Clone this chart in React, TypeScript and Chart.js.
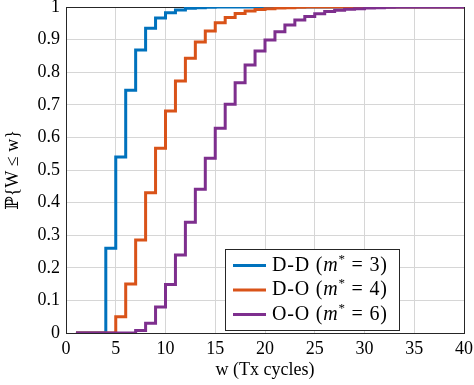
import React, { useEffect, useRef } from "react";
import { Chart, registerables } from "chart.js";

Chart.register(...registerables);

// ---- data ----
const wValues = [1, 2, 3, 4, 5, 6, 7, 8, 9, 10, 11, 12, 13, 14, 15, 16, 17, 18, 19, 20, 21, 22, 23, 24, 25, 26, 27, 28, 29, 30, 31, 32, 33, 34, 35, 36, 37, 38, 39, 40];
const ddValues = [0, 0, 0, 0.26, 0.54, 0.745, 0.868, 0.935, 0.966, 0.982, 0.991, 0.996, 0.998, 0.999, 1, 1, 1, 1, 1, 1, 1, 1, 1, 1, 1, 1, 1, 1, 1, 1, 1, 1, 1, 1, 1, 1, 1, 1, 1, 1];
const doValues = [0, 0, 0, 0, 0.05, 0.15, 0.285, 0.43, 0.567, 0.681, 0.773, 0.843, 0.893, 0.926, 0.952, 0.968, 0.98, 0.988, 0.992, 0.995, 0.997, 0.998, 0.999, 1, 1, 1, 1, 1, 1, 1, 1, 1, 1, 1, 1, 1, 1, 1, 1, 1];
const ooValues = [0, 0, 0, 0, 0, 0, 0.008, 0.03, 0.08, 0.149, 0.239, 0.34, 0.441, 0.536, 0.628, 0.702, 0.768, 0.822, 0.865, 0.899, 0.924, 0.945, 0.96, 0.971, 0.979, 0.986, 0.99, 0.993, 0.995, 0.997, 0.998, 0.999, 1, 1, 1, 1, 1, 1, 1, 1];
const seriesNames = ["D-D", "D-O", "O-O"];
const mStarValues = [3, 4, 6];
const seriesColors = ["#0072BD", "#D95319", "#7E2F8E"];
const xTickValues = [0, 5, 10, 15, 20, 25, 30, 35, 40];
const yTickValues = [0, 0.1, 0.2, 0.3, 0.4, 0.5, 0.6, 0.7, 0.8, 0.9, 1];
const xTitle = "w (Tx cycles)";
const yTitle = "\u2119{W \u2264 w}";

const FONT = "'Liberation Serif', 'DejaVu Serif', serif";

const framePlugin = {
  id: "frame",
  beforeDatasetsDraw(chart: any) {
    const { ctx, chartArea } = chart;
    ctx.save();
    ctx.strokeStyle = "#262626";
    ctx.lineWidth = 1;
    ctx.strokeRect(Math.round(chartArea.left) + 0.5, Math.round(chartArea.top) + 0.5, Math.round(chartArea.right - chartArea.left), Math.round(chartArea.bottom - chartArea.top));
    ctx.restore();
  },
};

const legendPlugin = {
  id: "boxLegend",
  afterDraw(chart: any) {
    const ctx = chart.ctx as CanvasRenderingContext2D;
    const boxX = 225.5;
    const boxY = 249.5;
    const boxW = 174;
    const boxH = 81;
    const rowH = 24.5;
    const size = 20;
    const fN = `${size}px ${FONT}`;
    const fI = `italic ${size}px ${FONT}`;
    const fS = `13px ${FONT}`;
    const textX = 272;
    ctx.save();
    (ctx as any).letterSpacing = "0.8px";
    const rows = seriesNames.map((n, i) => [
      { t: n + " (", f: fN, dy: 0 },
      { t: "m", f: fI, dy: 0 },
      { t: "*", f: fS, dy: -6 },
      { t: " = " + mStarValues[i] + ")", f: fN, dy: 0 },
    ]);
    ctx.fillStyle = "#ffffff";
    ctx.fillRect(boxX, boxY, boxW, boxH);
    ctx.strokeStyle = "#262626";
    ctx.lineWidth = 1;
    ctx.strokeRect(boxX, boxY, boxW, boxH);
    rows.forEach((segs, i) => {
      const y = boxY + 16 + i * rowH;
      ctx.strokeStyle = seriesColors[i];
      ctx.lineWidth = 3;
      ctx.beginPath();
      ctx.moveTo(233, y);
      ctx.lineTo(266, y);
      ctx.stroke();
      let x = textX;
      ctx.fillStyle = "#000000";
      ctx.textBaseline = "middle";
      ctx.textAlign = "left";
      segs.forEach((s) => {
        ctx.font = s.f;
        ctx.fillText(s.t, x, y + s.dy);
        x += ctx.measureText(s.t).width;
      });
    });
    ctx.restore();
  },
};

export default function App() {
  const ref = useRef<HTMLCanvasElement>(null);
  useEffect(() => {
    const values = [ddValues, doValues, ooValues];
    const chart = new Chart(ref.current as HTMLCanvasElement, {
      type: "line",
      data: {
        datasets: seriesNames.map((name, i) => ({
          label: `${name} (m* = ${mStarValues[i]})`,
          data: wValues.map((w, j) => ({ x: w, y: values[i][j] })),
          borderColor: seriesColors[i],
          backgroundColor: seriesColors[i],
          borderWidth: 3,
          stepped: "before" as const,
          pointRadius: 0,
          fill: false,
          order: 2 - i,
        })),
      },
      options: {
        animation: false,
        responsive: false,
        devicePixelRatio: 1,
        layout: { padding: { top: 7, right: 10, left: 0, bottom: 0 } },
        plugins: { legend: { display: false }, tooltip: { enabled: false } },
        scales: {
          x: {
            type: "linear",
            min: 0,
            max: 40,
            afterBuildTicks: (s: any) => {
              s.ticks = xTickValues.map((v) => ({ value: v }));
            },
            afterFit: (s: any) => {
              s.height = 52;
              s.paddingLeft = 0;
              s.paddingRight = 0;
            },
            grid: { color: "#d6d6d6", lineWidth: 1, drawTicks: false },
            border: { display: false },
            ticks: { color: "#000", font: { family: FONT, size: 18 }, padding: 5, maxRotation: 0, callback: (v: any) => String(v) },
            title: { display: true, text: xTitle, color: "#000", font: { family: FONT, size: 18 }, padding: { top: 0, bottom: 4 } },
          },
          y: {
            type: "linear",
            min: 0,
            max: 1,
            afterBuildTicks: (s: any) => {
              s.ticks = yTickValues.map((v) => ({ value: v }));
            },
            afterFit: (s: any) => {
              s.width = 66;
              s.paddingTop = 0;
              s.paddingBottom = 0;
            },
            grid: { color: "#d6d6d6", lineWidth: 1, drawTicks: false },
            border: { display: false },
            ticks: { color: "#000", font: { family: FONT, size: 18 }, padding: 6, callback: (v: any) => String(v) },
            title: { display: true, text: yTitle, color: "#000", font: { family: FONT, size: 18 }, padding: { top: 2, bottom: 0 } },
          },
        },
      },
      plugins: [framePlugin, legendPlugin],
    });
    return () => chart.destroy();
  }, []);
  return (
    <div style={{ position: "absolute", left: 0, top: 0, width: 474, height: 385, background: "#fff" }}>
      <canvas ref={ref} width={474} height={385} style={{ display: "block", width: 474, height: 385 }} />
    </div>
  );
}
